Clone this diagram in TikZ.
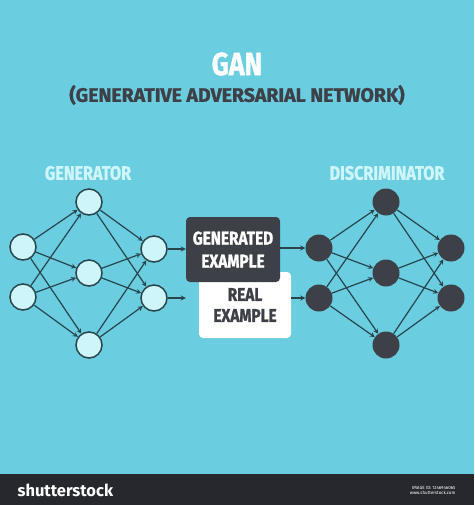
\documentclass[tikz,border=0pt]{standalone}
\usepackage{fontspec}
\newfontfamily\headfont{Fira Sans}[FakeBold=1.2]
\newfontfamily\boxfont{Fira Sans}[FakeBold=1.2, FakeStretch=0.83]
\setmainfont{Fira Sans}
\definecolor{sky}{RGB}{106,206,224}
\definecolor{pale}{RGB}{205,245,250}
\definecolor{ink}{RGB}{40,68,76}
\definecolor{slate}{RGB}{61,64,70}
\definecolor{bar}{RGB}{38,40,46}
\tikzset{
	gen/.style={circle, fill=pale, draw=ink, line width=1.5pt, minimum size=26pt, inner sep=0pt},
	dis/.style={circle, fill=slate, minimum size=27pt, inner sep=0pt},
	link/.style={->, >=stealth, draw=ink, line width=1.2pt},
	label/.style={font=\boxfont\bfseries\fontsize{19.5}{20}\selectfont, text=pale},
}
\begin{document}
\begin{tikzpicture}[x=1pt, y=-1pt]
			\fill[sky] (0,0) rectangle (474,505);
			\useasboundingbox (0,0) rectangle (474,505);
			% titles
			\node[font=\boxfont\bfseries\fontsize{32}{32}\selectfont, text=white] (title) at (237,64) {GAN};
			\node[font=\headfont\bfseries\fontsize{19.5}{20}\selectfont, text=slate] (subtitle) at (237,95) {(GENERATIVE ADVERSARIAL NETWORK)};
			\node[label] (genlabel) at (88,173) {GENERATOR};
			\node[label] (dislabel) at (387,173) {DISCRIMINATOR};
			% generator
			\node[gen] (gi1) at (23,247) {};
			\node[gen] (gi2) at (23,297) {};
			\node[gen] (gh1) at (89,202) {};
			\node[gen] (gh2) at (89,273) {};
			\node[gen] (gh3) at (89,345) {};
			\node[gen] (go1) at (154,249) {};
			\node[gen] (go2) at (154,298) {};
			\draw[link] (gi1) -- (gh1);
			\draw[link] (gi1) -- (gh2);
			\draw[link] (gi1) -- (gh3);
			\draw[link] (gi2) -- (gh1);
			\draw[link] (gi2) -- (gh2);
			\draw[link] (gi2) -- (gh3);
			\draw[link] (gh1) -- (go1);
			\draw[link] (gh1) -- (go2);
			\draw[link] (gh2) -- (go1);
			\draw[link] (gh2) -- (go2);
			\draw[link] (gh3) -- (go1);
			\draw[link] (gh3) -- (go2);
			% examples
			\node[fill=white, rounded corners=4pt, minimum width=92pt, minimum height=66pt, align=center,
				font=\boxfont\bfseries\fontsize{18.5}{21}\selectfont, text=slate] (realbox) at (245,305) {REAL\\EXAMPLE};
			\node[fill=slate, rounded corners=4pt, minimum width=94pt, minimum height=65pt, align=center,
				font=\boxfont\bfseries\fontsize{18.5}{23}\selectfont, text=white] (genbox) at (233,249.5) {GENERATED\\EXAMPLE};
			\draw[link] (go1) -- (go1 -| genbox.west);
			\draw[link] (go2) -- (go2 -| genbox.west);
			% discriminator
			\node[dis] (di1) at (319,248) {};
			\node[dis] (di2) at (319,298) {};
			\node[dis] (dh1) at (386,202) {};
			\node[dis] (dh2) at (386,273) {};
			\node[dis] (dh3) at (386,345) {};
			\node[dis] (do1) at (451,248) {};
			\node[dis] (do2) at (451,298) {};
			\draw[link] (genbox.east |- di1) -- (di1);
			\draw[link] (realbox.east |- di2) -- (di2);
			\draw[link] (di1) -- (dh1);
			\draw[link] (di1) -- (dh2);
			\draw[link] (di1) -- (dh3);
			\draw[link] (di2) -- (dh1);
			\draw[link] (di2) -- (dh2);
			\draw[link] (di2) -- (dh3);
			\draw[link] (dh1) -- (do1);
			\draw[link] (dh1) -- (do2);
			\draw[link] (dh2) -- (do1);
			\draw[link] (dh2) -- (do2);
			\draw[link] (dh3) -- (do1);
			\draw[link] (dh3) -- (do2);
			% footer
			\fill[bar] (0,474) rectangle (474,505);
			\node[anchor=west, text=white, font=\bfseries\fontsize{16.5}{18}\selectfont] (brand) at (14,490) {shutterstock};
			\node[anchor=east, text=white, font=\fontsize{4.5}{5}\selectfont, align=right] (imgid) at (459,490) {IMAGE ID: 1246946065\\www.shutterstock.com};
			\end{tikzpicture}
\end{document}
